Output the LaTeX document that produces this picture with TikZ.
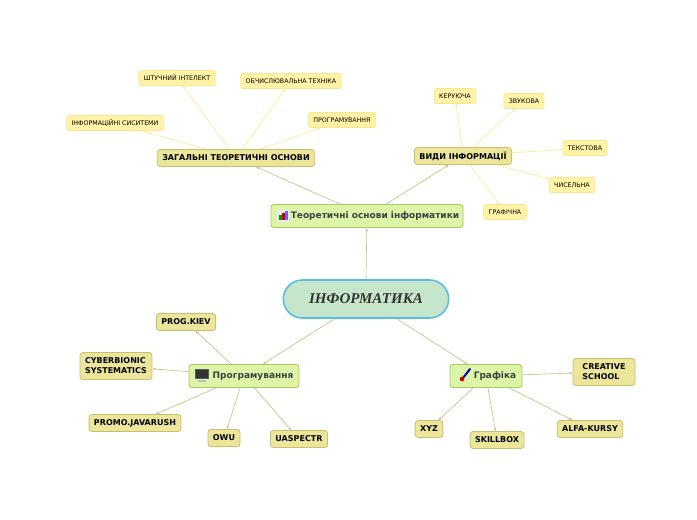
\documentclass[tikz,border=0pt]{standalone}
\usepackage{fontspec}
\setmainfont{DejaVu Sans}
\newfontfamily\serifit{Liberation Serif}
\usetikzlibrary{arrows.meta,shapes.misc}
\definecolor{rootfill}{HTML}{C6E6CC}
\definecolor{rootdraw}{HTML}{5BBBE8}
\definecolor{midfill}{HTML}{DDF5A8}
\definecolor{middraw}{HTML}{A8CC55}
\definecolor{subfill}{HTML}{EBE699}
\definecolor{subdraw}{HTML}{C8C070}
\definecolor{leaffill}{HTML}{FFF3A8}
\definecolor{leafdraw}{HTML}{FFE58A}
\definecolor{edgeA}{HTML}{C4C27A}
\definecolor{edgeB}{HTML}{FFE88A}
\tikzset{
 x=1pt,y=-1pt,
 rootbox/.style={rounded rectangle,fill=rootfill,draw=rootdraw,line width=1.6pt,minimum width=172pt,minimum height=38pt,font=\serifit\bfseries\itshape\fontsize{15}{17}\selectfont,text=black!80},
 midbox/.style={rounded corners=3pt,fill=midfill,draw=middraw,line width=0.9pt,minimum height=23pt,font=\bfseries\fontsize{9}{11}\selectfont,text=black!75},
 subbox/.style={rounded corners=3pt,fill=subfill,draw=subdraw,line width=0.8pt,minimum height=17pt,inner xsep=5pt,inner ysep=2pt,font=\bfseries\fontsize{8}{10}\selectfont,align=left},
 leafbox/.style={rounded corners=2pt,fill=leaffill,draw=leafdraw,line width=0.7pt,minimum height=15pt,inner xsep=5pt,inner ysep=2pt,font=\fontsize{6.3}{7}\selectfont},
 ea/.style={draw=edgeA,line width=0.6pt,-{Stealth[length=3.5pt,width=2.5pt]}},
 eb/.style={draw=edgeB,line width=0.6pt,-{Stealth[length=3.5pt,width=2.5pt]}},
}
\begin{document}
\begin{tikzpicture}
\useasboundingbox[fill=white] (0,0) rectangle (697,520);
\node[rootbox] (root) at (366,299) {ІНФОРМАТИКА};
\node[midbox,minimum width=192pt] (teo) at (367,216) {\hspace{16pt}Теоретичні основи інформатики};
\node[midbox,minimum width=110pt] (prog) at (244,376) {\hspace{18pt}Програмування};
\node[midbox,minimum width=72pt] (graf) at (486,376) {\hspace{18pt}Графіка};
% icons
\begin{scope}[shift={(283,216)}]
 \fill[gray!15] (-6,-6) rectangle (6,6);
 \fill[green!60!black] (-4,4) rectangle (-1.5,-1);
 \fill[red!80!black] (-1,4) rectangle (1.5,-3);
 \fill[blue!60] (2,4) rectangle (4.5,-5);
\end{scope}
\begin{scope}[shift={(202,375)}]
 \fill[gray!70!black] (-7,-6) rectangle (7,4);
 \fill[gray!40!black] (-6,-5) rectangle (6,3);
 \fill[gray!50] (-4,5) rectangle (4,7);
\end{scope}
\begin{scope}[shift={(464,376)}]
 \draw[blue!70!black,line width=2pt,line cap=round] (6,-7) -- (-1,2);
 \fill[red!80!black] (-2,3) circle (2.3pt);
\end{scope}
\node[subbox] (zto) at (236,158) {ЗАГАЛЬНІ ТЕОРЕТИЧНІ ОСНОВИ};
\node[subbox] (vid) at (463,156) {ВИДИ ІНФОРМАЦІЇ};
\node[leafbox] (l1) at (177,78) {ШТУЧНИЙ ІНТЕЛЕКТ};
\node[leafbox] (l2) at (291,81) {ОБЧИСЛЮВАЛЬНА ТЕХНІКА};
\node[leafbox] (l3) at (342,120) {ПРОГРАМУВАННЯ};
\node[leafbox] (l4) at (115,123) {ІНФОРМАЦІЙНІ СИСИТЕМИ};
\node[leafbox] (v1) at (455,96) {КЕРУЮЧА};
\node[leafbox] (v2) at (524,101) {ЗВУКОВА};
\node[leafbox] (v3) at (585,148) {ТЕКСТОВА};
\node[leafbox] (v4) at (572,185) {ЧИСЕЛЬНА};
\node[leafbox] (v5) at (505,212) {ГРАФІЧНА};
\node[subbox] (p1) at (186,322) {PROG.KIEV};
\node[subbox,minimum height=27pt] (p2) at (116,366) {CYBERBIONIC\\SYSTEMATICS};
\node[subbox] (p3) at (135,423) {PROMO.JAVARUSH};
\node[subbox] (p4) at (224,438) {OWU};
\node[subbox] (p5) at (299,439) {UASPECTR};
\node[subbox] (g1) at (429,429) {XYZ};
\node[subbox] (g2) at (497,440) {SKILLBOX};
\node[subbox] (g3) at (590,429) {ALFA-KURSY};
\node[subbox,minimum width=62pt,minimum height=27pt] (g4) at (604,372) {CREATIVE\\SCHOOL};
\draw[ea] (root.north) -- (teo);
\draw[ea] (root) -- (prog);
\draw[ea] (root) -- (graf);
\draw[ea] (teo) -- (zto);
\draw[ea] (teo) -- (vid);
\foreach \n in {l1,l2,l3,l4} \draw[eb] (zto) -- (\n);
\foreach \n in {v1,v2,v3,v4,v5} \draw[eb] (vid) -- (\n);
\foreach \n in {p1,p2,p3,p4,p5} \draw[ea] (prog) -- (\n);
\foreach \n in {g1,g2,g3,g4} \draw[ea] (graf) -- (\n);
\end{tikzpicture}
\end{document}
